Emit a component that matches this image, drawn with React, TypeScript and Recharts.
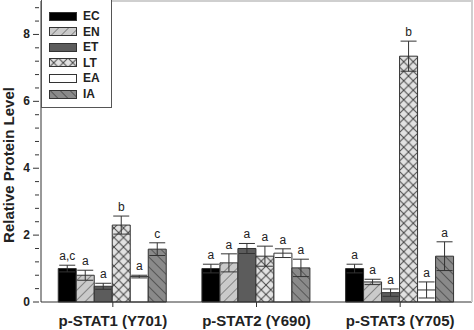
import { BarChart, Bar, XAxis, YAxis, ErrorBar, LabelList } from 'recharts';

const categories = ['p-STAT1 (Y701)', 'p-STAT2 (Y690)', 'p-STAT3 (Y705)'];
const seriesNames = ['EC', 'EN', 'ET', 'LT', 'EA', 'IA'];

const ecValues = [1.0, 1.0, 1.0];
const enValues = [0.8, 1.17, 0.6];
const etValues = [0.47, 1.6, 0.28];
const ltValues = [2.3, 1.37, 7.35];
const eaValues = [0.76, 1.46, 0.36];
const iaValues = [1.58, 1.02, 1.37];

const ecErrors = [0.1, 0.13, 0.13];
const enErrors = [0.15, 0.27, 0.08];
const etErrors = [0.09, 0.15, 0.11];
const ltErrors = [0.27, 0.3, 0.45];
const eaErrors = [0.04, 0.13, 0.24];
const iaErrors = [0.19, 0.26, 0.43];

const ecLetters = ['a,c', 'a', 'a'];
const enLetters = ['a', 'a', 'a'];
const etLetters = ['a', 'a', 'a'];
const ltLetters = ['b', 'a', 'b'];
const eaLetters = ['a', 'a', 'a'];
const iaLetters = ['c', 'a', 'a'];

const yTicks = [0, 0.4, 0.8, 1.2, 1.6, 2, 2.4, 2.8, 3.2, 3.6, 4, 4.4, 4.8, 5.2, 5.6, 6, 6.4, 6.8, 7.2, 7.6, 8, 8.4, 8.8];

const valueSets = [ecValues, enValues, etValues, ltValues, eaValues, iaValues];
const errorSets = [ecErrors, enErrors, etErrors, ltErrors, eaErrors, iaErrors];
const letterSets = [ecLetters, enLetters, etLetters, ltLetters, eaLetters, iaLetters];

const data = categories.map((name, i) => {
  const row: any = { name };
  seriesNames.forEach((s, j) => {
    row[s] = valueSets[j][i];
    row[s + '_err'] = errorSets[j][i];
    row[s + '_lab'] = letterSets[j][i];
  });
  return row;
});

const fills: Record<string, string> = {
  EC: '#000000',
  EN: 'url(#patEN)',
  ET: '#5c5c5c',
  LT: 'url(#patLT)',
  EA: '#ffffff',
  IA: 'url(#patIA)',
};

const FONT = 'Arial, "Liberation Sans", sans-serif';

const makeLetter = (key: string) => (props: any) => {
  const { x, y, width, height, index, value } = props;
  const row = data[index];
  const pxPerUnit = height / row[key];
  const top = y - row[key + '_err'] * pxPerUnit;
  return (
    <text x={x + width / 2} y={top - 5} textAnchor="middle" fontSize={12} fontFamily={FONT} fill="#222">
      {value}
    </text>
  );
};

const XTick = ({ x, payload }: any) => (
  <text x={x} y={326} textAnchor="middle" fontSize={15} fontWeight="bold" fontFamily={FONT} fill="#222">
    {payload.value}
  </text>
);

const YTick = ({ x, y, payload }: any) => {
  const v = payload.value;
  const major = Math.abs(v - Math.round(v / 2) * 2) < 1e-6;
  return (
    <g>
      <line x1={x + 5 - (major ? 6 : 4)} x2={x + 5} y1={y} y2={y} stroke="#333" />
      {major && (
        <text x={x - 4} y={y + 4} textAnchor="end" fontSize={12} fontWeight="bold" fontFamily={FONT} fill="#222">
          {v}
        </text>
      )}
    </g>
  );
};

export default function App() {
  return (
    <div style={{ position: 'absolute', left: 0, top: 0, width: 474, height: 330, background: '#fff' }}>
      <BarChart
        width={474}
        height={330}
        data={data}
        margin={{ top: 1, right: 2, left: 0, bottom: 0 }}
        barCategoryGap="12%"
        barGap={0}
      >
        <defs>
          <pattern id="patEN" patternUnits="userSpaceOnUse" width="7" height="7" patternTransform="rotate(45)">
            <rect width="7" height="7" fill="#cacaca" />
            <line x1="0" y1="0" x2="0" y2="7" stroke="#555" strokeWidth="1.2" />
          </pattern>
          <pattern id="patIA" patternUnits="userSpaceOnUse" width="7" height="7" patternTransform="rotate(-45)">
            <rect width="7" height="7" fill="#8a8a8a" />
            <line x1="0" y1="0" x2="0" y2="7" stroke="#333" strokeWidth="1.2" />
          </pattern>
          <pattern id="patLT" patternUnits="userSpaceOnUse" width="9.5" height="9.5">
            <rect width="9.5" height="9.5" fill="#e2e2e2" />
            <path d="M0,0 L9.5,9.5 M9.5,0 L0,9.5" stroke="#444" strokeWidth="1" />
          </pattern>
        </defs>
        <XAxis
          dataKey="name"
          height={28}
          tick={<XTick />}
          tickSize={5}
          tickLine={{ stroke: '#333' }}
          axisLine={{ stroke: '#333' }}
        />
        <YAxis
          width={41}
          domain={[0, 9]}
          ticks={yTicks}
          interval={0}
          tick={<YTick />}
          tickLine={false}
          tickSize={5}
          axisLine={{ stroke: '#333' }}
          label={() => (
            <text
              x={14}
              y={165}
              transform="rotate(-90 14 165)"
              textAnchor="middle"
              fontSize={15}
              fontWeight="bold"
              fontFamily={FONT}
              fill="#222"
            >
              Relative Protein Level
            </text>
          )}
        />
        {seriesNames.map((s) => (
          <Bar key={s} dataKey={s} fill={fills[s]} stroke="#333" strokeWidth={1} isAnimationActive={false}>
            <ErrorBar dataKey={s + '_err'} width={8} stroke="#333" strokeWidth={1} />
            <LabelList dataKey={s + '_lab'} content={makeLetter(s)} />
          </Bar>
        ))}
      </BarChart>
      {/* frame top and right */}
      <div style={{ position: 'absolute', left: 41, top: 0, width: 432, height: 0, borderTop: '2px solid #cfcfcf' }} />
      <div style={{ position: 'absolute', left: 471, top: 0, width: 0, height: 302, borderLeft: '2px solid #cfcfcf' }} />
      {/* legend */}
      <div
        style={{
          position: 'absolute',
          left: 41,
          top: -2,
          width: 71,
          height: 110,
          border: '1px solid #555',
          background: '#fff',
          boxSizing: 'border-box',
        }}
      >
        {seriesNames.map((s, i) => (
          <div key={s} style={{ position: 'absolute', left: 7, top: 12 + i * 15.6, height: 10, display: 'flex', alignItems: 'center' }}>
            <svg width={28} height={9} style={{ display: 'block' }}>
              <rect x={0.5} y={0.5} width={27} height={8} fill={fills[s]} stroke="#333" />
            </svg>
            <span style={{ marginLeft: 6, fontFamily: FONT, fontWeight: 'bold', fontSize: 12, color: '#222', lineHeight: '10px' }}>
              {s}
            </span>
          </div>
        ))}
      </div>
    </div>
  );
}
